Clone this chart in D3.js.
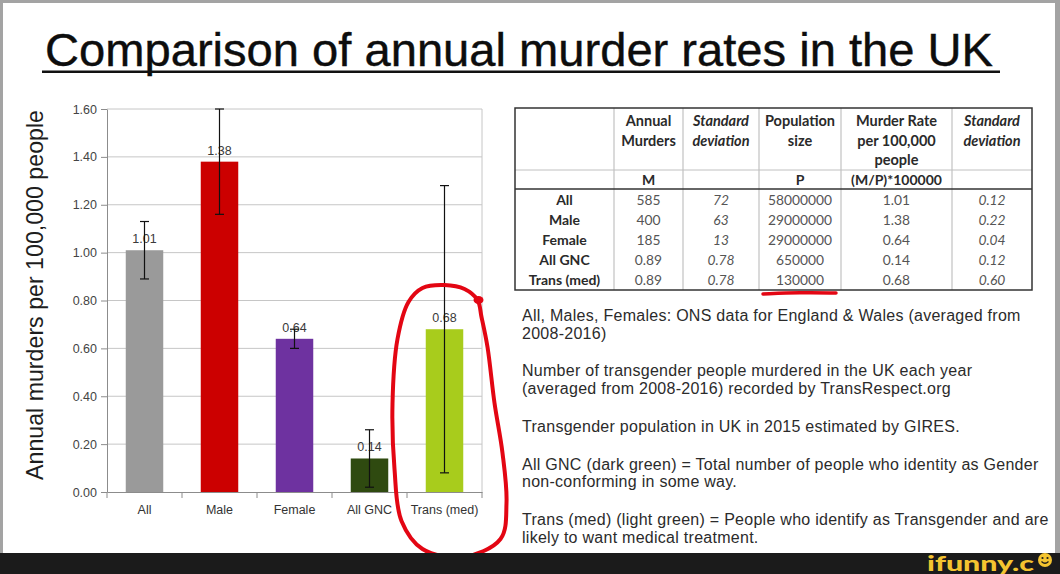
<!DOCTYPE html>
<html>
<head>
<meta charset="utf-8">
<script src="https://cdn.jsdelivr.net/npm/d3@7/dist/d3.min.js"></script>
<style>
  html, body { margin: 0; padding: 0; background: #fff; }
  svg { display: block; }
</style>
</head>
<body>
<svg id="chart" width="1060" height="574"></svg>
<script>
// ---------------- DATA ----------------
const categories = ["All", "Male", "Female", "All GNC", "Trans (med)"];
const rates = [1.01, 1.38, 0.64, 0.14, 0.68];
const stdDevs = [0.12, 0.22, 0.04, 0.12, 0.60];
const yTicks = [0, 0.2, 0.4, 0.6, 0.8, 1.0, 1.2, 1.4, 1.6];

const tableHeaders = [
  ["Annual", "Murders"],
  ["Standard", "deviation"],
  ["Population", "size"],
  ["Murder Rate", "per 100,000", "people"],
  ["Standard", "deviation"]
];
const tableSubHeaders = ["M", "", "P", "(M/P)*100000", ""];
const annualMurders = ["585", "400", "185", "0.89", "0.89"];
const murderSD = ["72", "63", "13", "0.78", "0.78"];
const populations = ["58000000", "29000000", "29000000", "650000", "130000"];

const notes = [
  ["All, Males, Females: ONS data for England & Wales (averaged from", "2008-2016)"],
  ["Number of transgender people murdered in the UK each year", "(averaged from  2008-2016) recorded by TransRespect.org"],
  ["Transgender population in UK in 2015 estimated by GIRES."],
  ["All GNC (dark green) = Total number of people who identity as Gender", "non-conforming in some way."],
  ["Trans (med) (light green) = People who identify as Transgender and are", "likely to want medical treatment."]
];

const titleText = "Comparison of annual murder rates in the UK";
const yAxisTitle = "Annual murders per 100,000 people";

// ---------------- STYLES ----------------
const barColors = ["#9a9a9a", "#cc0000", "#6e32a0", "#2f4a10", "#a8cc1c"];
const sansFont = "'Liberation Sans', Arial, sans-serif";
const tableFont = "Lato, 'Open Sans', sans-serif";

const svg = d3.select("#chart");

// Frame
svg.append("rect").attr("x", 0).attr("y", 0).attr("width", 1060).attr("height", 574).attr("fill", "#a3a3a3");
svg.append("rect").attr("x", 3).attr("y", 3).attr("width", 1052).attr("height", 551).attr("fill", "#ffffff");

// Title
svg.append("text")
  .attr("x", 45).attr("y", 66)
  .attr("font-family", sansFont).attr("font-size", 46)
  .attr("textLength", 948).attr("lengthAdjust", "spacingAndGlyphs")
  .attr("fill", "#0d0d0d").attr("stroke", "#0d0d0d").attr("stroke-width", 0.4)
  .text(titleText);
svg.append("rect").attr("x", 42).attr("y", 70.5).attr("width", 958).attr("height", 2.5).attr("fill", "#111");

// ---------------- CHART ----------------
const plot = { left: 107, right: 482, top: 109, bottom: 492 };

const x = d3.scaleBand()
  .domain(categories)
  .range([plot.left, plot.right])
  .paddingInner(0.5)
  .paddingOuter(0.25);

const y = d3.scaleLinear()
  .domain([0, 1.6])
  .range([plot.bottom, plot.top]);

const g = svg.append("g");

// gridlines
g.selectAll("line.grid")
  .data(yTicks.filter(d => d > 0))
  .join("line")
  .attr("class", "grid")
  .attr("x1", plot.left).attr("x2", plot.right)
  .attr("y1", d => y(d)).attr("y2", d => y(d))
  .attr("stroke", "#c6c6c6").attr("stroke-width", 1);

// right border of plot area
g.append("line")
  .attr("x1", plot.right).attr("x2", plot.right)
  .attr("y1", y(1.6)).attr("y2", y(0))
  .attr("stroke", "#c6c6c6");

// y axis
const yAxis = g.append("g")
  .attr("transform", `translate(${plot.left},0)`)
  .call(d3.axisLeft(y).tickValues(yTicks).tickSize(6).tickSizeOuter(0).tickPadding(4)
    .tickFormat(d => d.toFixed(2)));
yAxis.select(".domain").attr("stroke", "#8c8c8c");
yAxis.selectAll(".tick line").attr("stroke", "#8c8c8c");
yAxis.selectAll(".tick text")
  .attr("font-family", sansFont).attr("font-size", 12.5).attr("fill", "#444");

// x axis
const xAxis = g.append("g")
  .attr("transform", `translate(0,${plot.bottom})`)
  .call(d3.axisBottom(x).tickSize(0).tickSizeOuter(0).tickPadding(13));
xAxis.select(".domain").attr("stroke", "#8c8c8c");
xAxis.selectAll(".tick text")
  .attr("font-family", sansFont).attr("font-size", 12.5).attr("fill", "#333");

// category boundary ticks
g.selectAll("line.bt")
  .data(d3.range(categories.length + 1))
  .join("line")
  .attr("class", "bt")
  .attr("x1", i => x.range()[0] + i * (x.range()[1] - x.range()[0]) / categories.length)
  .attr("x2", i => x.range()[0] + i * (x.range()[1] - x.range()[0]) / categories.length)
  .attr("y1", plot.bottom).attr("y2", plot.bottom + 6)
  .attr("stroke", "#8c8c8c");

// Y axis title
svg.append("text")
  .attr("transform", `translate(43,295) rotate(-90)`)
  .attr("text-anchor", "middle")
  .attr("font-family", sansFont).attr("font-size", 23.2)
  .attr("fill", "#1e1e1e")
  .text(yAxisTitle);

// bars
g.selectAll("rect.bar")
  .data(categories)
  .join("rect")
  .attr("class", "bar")
  .attr("x", d => x(d))
  .attr("width", x.bandwidth())
  .attr("y", (d, i) => y(rates[i]))
  .attr("height", (d, i) => y(0) - y(rates[i]))
  .attr("fill", (d, i) => barColors[i]);

// value labels
g.selectAll("text.val")
  .data(categories)
  .join("text")
  .attr("class", "val")
  .attr("x", d => x(d) + x.bandwidth() / 2)
  .attr("y", (d, i) => y(rates[i]) - 7)
  .attr("text-anchor", "middle")
  .attr("font-family", sansFont).attr("font-size", 12.5)
  .attr("fill", "#3a3a3a")
  .text((d, i) => rates[i].toFixed(2));

// error bars
const eb = g.selectAll("g.err").data(categories).join("g").attr("class", "err")
  .attr("stroke", "#111").attr("stroke-width", 1.2);
eb.append("line")
  .attr("x1", d => x(d) + x.bandwidth() / 2).attr("x2", d => x(d) + x.bandwidth() / 2)
  .attr("y1", (d, i) => y(rates[i] - stdDevs[i])).attr("y2", (d, i) => y(rates[i] + stdDevs[i]));
eb.append("line")
  .attr("x1", d => x(d) + x.bandwidth() / 2 - 4.5).attr("x2", d => x(d) + x.bandwidth() / 2 + 4.5)
  .attr("y1", (d, i) => y(rates[i] + stdDevs[i])).attr("y2", (d, i) => y(rates[i] + stdDevs[i]));
eb.append("line")
  .attr("x1", d => x(d) + x.bandwidth() / 2 - 4.5).attr("x2", d => x(d) + x.bandwidth() / 2 + 4.5)
  .attr("y1", (d, i) => y(rates[i] - stdDevs[i])).attr("y2", (d, i) => y(rates[i] - stdDevs[i]));

// ---------------- TABLE ----------------
const colX = [515, 614, 683, 759, 841, 952, 1032];
const tTop = 108, headBottom = 170, subBottom = 189, rowH = 20.2;
const tBottom = subBottom + rowH * categories.length;
const tg = svg.append("g");

colX.slice(1, -1).forEach(cx => {
  tg.append("line").attr("x1", cx).attr("x2", cx).attr("y1", tTop).attr("y2", tBottom)
    .attr("stroke", "#b5b5b5").attr("stroke-width", 1);
});
tg.append("line").attr("x1", colX[0]).attr("x2", colX[6]).attr("y1", headBottom).attr("y2", headBottom)
  .attr("stroke", "#c0c0c0");
tg.append("line").attr("x1", colX[0]).attr("x2", colX[6]).attr("y1", subBottom).attr("y2", subBottom)
  .attr("stroke", "#333").attr("stroke-width", 1.6);
tg.append("rect").attr("x", colX[0]).attr("y", tTop).attr("width", colX[6] - colX[0]).attr("height", tBottom - tTop)
  .attr("fill", "none").attr("stroke", "#333").attr("stroke-width", 1.5);

const colCenter = i => (colX[i] + colX[i + 1]) / 2;

tableHeaders.forEach((lines, j) => {
  const italic = lines[0] === "Standard";
  lines.forEach((ln, k) => {
    tg.append("text")
      .attr("x", colCenter(j + 1)).attr("y", 126 + k * 19.5)
      .attr("text-anchor", "middle")
      .attr("font-family", tableFont).attr("font-size", 14.5).attr("font-weight", 700)
      .attr("font-style", italic ? "italic" : "normal")
      .attr("fill", "#2a2a2a")
      .text(ln);
  });
});
tableSubHeaders.forEach((s, j) => {
  tg.append("text")
    .attr("x", colCenter(j + 1)).attr("y", 185)
    .attr("text-anchor", "middle")
    .attr("font-family", tableFont).attr("font-size", 14).attr("font-weight", 700)
    .attr("fill", "#2a2a2a")
    .text(s);
});

categories.forEach((c, i) => {
  const by = subBottom + rowH * i + 15.5;
  const cells = [
    { t: c, bold: true, italic: false, col: "#2a2a2a" },
    { t: annualMurders[i], bold: false, italic: false, col: "#555" },
    { t: murderSD[i], bold: false, italic: true, col: "#555" },
    { t: populations[i], bold: false, italic: false, col: "#555" },
    { t: rates[i].toFixed(2), bold: false, italic: false, col: "#555" },
    { t: stdDevs[i].toFixed(2), bold: false, italic: true, col: "#555" }
  ];
  cells.forEach((cell, j) => {
    tg.append("text")
      .attr("x", colCenter(j)).attr("y", by)
      .attr("text-anchor", "middle")
      .attr("font-family", tableFont).attr("font-size", cell.bold ? 14 : 13.8)
      .attr("font-weight", cell.bold ? 700 : 400)
      .attr("font-style", cell.italic ? "italic" : "normal")
      .attr("fill", cell.col)
      .text(cell.t);
  });
});

// ---------------- NOTES ----------------
const ng = svg.append("g");
let ny = 321;
notes.forEach(par => {
  par.forEach(ln => {
    ng.append("text")
      .attr("x", 522).attr("y", ny)
      .attr("font-family", sansFont).attr("font-size", 16)
      .attr("letter-spacing", 0.27)
      .attr("fill", "#2b2b2b")
      .text(ln);
    ny += 17.6;
  });
  ny += 20.2;
});

// ---------------- ANNOTATIONS (hand-drawn red marks) ----------------
const tc = x("Trans (med)") + x.bandwidth() / 2;
const loopPts = [
  [33, 1], [20, -10], [0, -14], [-22, -11], [-36, 3], [-47, 40], [-52, 105], [-50, 170],
  [-43, 222], [-22, 250], [18, 258], [56, 240], [62, 204], [58, 154], [50, 104], [43, 48], [37, 18]
].map(p => [tc + p[0], 299 + p[1]]);
svg.append("path")
  .attr("d", d3.line().curve(d3.curveCatmullRomClosed)(loopPts))
  .attr("fill", "none").attr("stroke", "#e30613").attr("stroke-width", 4);
svg.append("ellipse").attr("cx", tc + 34).attr("cy", 300).attr("rx", 5).attr("ry", 4).attr("fill", "#e30613");

const popCenter = colCenter(3);
svg.append("path")
  .attr("d", d3.line().curve(d3.curveBasis)([[popCenter - 37, 294], [popCenter, 292.5], [popCenter + 36, 293]]))
  .attr("fill", "none").attr("stroke", "#e30613").attr("stroke-width", 3.5).attr("stroke-linecap", "round");

// bottom bar (covers the bottom of the loop)
svg.append("rect").attr("x", 0).attr("y", 553).attr("width", 1060).attr("height", 21).attr("fill", "#1b1b1b");

// ---------------- LOGO ----------------
svg.append("text")
  .attr("x", 927).attr("y", 571)
  .attr("font-family", "Lato, 'Open Sans', sans-serif").attr("font-weight", 900).attr("font-size", 21)
  .attr("textLength", 107).attr("lengthAdjust", "spacingAndGlyphs")
  .attr("fill", "#f4c430")
  .text("ifunny.c");
const sm = svg.append("g").attr("transform", "translate(1045,560)");
sm.append("circle").attr("r", 7).attr("fill", "#f4c430");
sm.append("circle").attr("cx", -2.5).attr("cy", -2).attr("r", 1.1).attr("fill", "#1b1b1b");
sm.append("circle").attr("cx", 2.5).attr("cy", -2).attr("r", 1.1).attr("fill", "#1b1b1b");
sm.append("path").attr("d", "M-3.5,1.5 Q0,5 3.5,1.5").attr("fill", "none").attr("stroke", "#1b1b1b").attr("stroke-width", 1.2);
</script>
</body>
</html>
